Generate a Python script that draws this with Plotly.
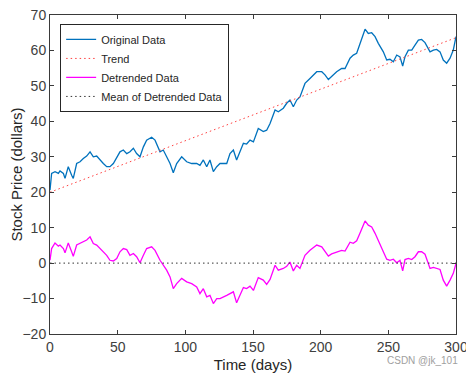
import plotly.graph_objects as go

# ---- data ----
time_days = [
    0, 1.2, 3.7, 6.2, 7.4, 9.9, 11.1, 13.5, 16.0, 17.2, 19.7, 22.2, 24.6, 27.1, 29.6,
    32.0, 34.5, 36.9, 39.4, 41.9, 44.3, 46.8, 49.3, 51.7, 54.2, 56.7, 59.1, 61.6, 64.0,
    66.5, 69.0, 71.4, 75.1, 77.6, 81.3, 83.7, 86.2, 88.7, 91.1, 93.6, 97.3, 101.0, 104.7,
    108.4, 110.8, 113.3, 115.8, 118.2, 120.7, 123.2, 125.6, 130.6,
    133.0, 135.5, 137.9, 142.9, 145.3, 147.8, 150.3, 153.9, 157.6, 160.1, 162.6, 166.3,
    168.7, 172.4, 174.9, 177.3, 179.8, 182.3, 184.7, 188.4, 192.1, 197.1, 200.8, 203.2,
    205.7, 208.1, 211.8, 215.5, 218.0, 221.7, 224.1, 226.6, 229.1, 232.8, 235.2, 237.7,
    240.2, 242.6, 246.3, 248.8, 251.2, 253.7, 256.2, 258.6, 260.6, 262.3, 264.8, 267.3,
    269.7, 272.2, 274.6, 277.1, 280.8, 283.3, 285.7, 288.2, 290.6, 293.1, 295.6, 298.0, 300,
]

original_data = [
    20.6, 25.3, 25.8, 25.3, 26.0, 25.3, 23.9, 27.2, 24.8, 23.9, 28.1, 28.6, 29.5, 30.2, 31.4,
    30.0, 30.2, 29.1, 28.1, 27.2, 27.2, 28.1, 30.0, 31.4, 31.9, 30.9, 31.4, 32.4, 30.9,
    30.0, 32.8, 34.7, 35.5, 34.7, 31.4, 31.9, 30.0, 28.1, 25.5, 28.1, 30.0, 28.6, 28.1,
    28.1, 27.6, 29.1, 27.2, 29.1, 25.8, 27.2, 28.1, 28.1,
    30.9, 31.9, 29.1, 33.8, 33.6, 34.7, 34.2, 38.0, 37.1, 37.5, 39.4, 43.2,
    42.7, 43.7, 45.1, 46.0, 44.1, 46.0, 46.9, 50.7, 52.1, 54.0, 54.0, 53.1,
    51.8, 52.6, 54.0, 54.9, 54.9, 57.8, 58.7, 59.2, 62.0, 66.0, 64.8, 65.0,
    63.9, 62.0, 59.6, 57.3, 57.5, 56.8, 58.7, 58.2, 55.6, 58.2, 60.1, 60.1,
    61.5, 62.9, 63.1, 62.2, 59.6, 60.1, 60.3, 59.6, 57.3, 56.4, 57.8, 60.1, 63.9,
]

detrended_data = [
    0.8, 4.1, 5.7, 4.8, 5.1, 4.1, 2.9, 5.7, 3.2, 1.9, 5.1, 5.5, 6.0, 6.5, 7.4,
    5.5, 5.1, 4.1, 3.2, 2.2, 0.8, 0.6, 1.3, 3.2, 4.1, 3.8, 2.2, 2.7, 1.8,
    0.1, 2.2, 4.1, 4.6, 3.6, 0.8, -0.6, -2.0, -3.9, -7.2, -5.8, -4.3, -5.3, -5.8,
    -6.7, -8.6, -7.2, -9.5, -9.1, -11.4, -10.0, -10.0, -9.1,
    -8.6, -8.1, -11.2, -6.9, -7.2, -6.5, -7.7, -4.1, -4.8, -6.0, -4.6, -0.6,
    -2.0, -1.5, -0.9, 0.3, -2.2, -0.6, -1.5, 2.2, 3.6, 5.1, 4.6, 3.3,
    2.0, 2.6, 3.2, 3.6, 3.4, 5.9, 5.6, 6.3, 8.5, 11.9, 10.7, 10.2,
    8.4, 6.5, 3.2, 1.1, 0.8, 1.1, 0.1, 0.8, -2.2, 1.0, 1.3, 1.0,
    1.8, 3.2, 3.2, 2.5, -1.5, -1.2, -1.5, -1.8, -4.8, -6.5, -4.8, -2.9, -0.1,
]

trend_days = [0, 300]
trend_values = [20.0, 63.6]
mean_days = [0, 300]
mean_values = [0.0, 0.0]

x_ticks = [0, 50, 100, 150, 200, 250, 300]
y_ticks = [-20, -10, 0, 10, 20, 30, 40, 50, 60, 70]

FONT = "Liberation Sans, Arial, sans-serif"
TICK_FONT = "Liberation Sans Narrow, Arial Narrow, Liberation Sans, sans-serif"
AXIS_COLOR = "#3a3a3a"

fig = go.Figure()
fig.add_trace(go.Scatter(x=time_days, y=original_data, mode="lines",
                         name="Original Data",
                         line=dict(color="#0072BD", width=1.3)))
fig.add_trace(go.Scatter(x=trend_days, y=trend_values, mode="lines",
                         name="Trend",
                         line=dict(color="#FF4040", width=1, dash="1.5px,3px")))
fig.add_trace(go.Scatter(x=time_days, y=detrended_data, mode="lines",
                         name="Detrended Data",
                         line=dict(color="#FF00FF", width=1.3)))
fig.add_trace(go.Scatter(x=mean_days, y=mean_values, mode="lines",
                         name="Mean of Detrended Data",
                         line=dict(color="#333333", width=1, dash="1.5px,3px")))

axis_common = dict(
    showgrid=False, zeroline=False, showline=True, linecolor=AXIS_COLOR, linewidth=1,
    mirror="allticks", ticks="inside", ticklen=4, tickcolor=AXIS_COLOR, automargin=False,
    ticklabeloverflow="allow",
    tickfont=dict(family=TICK_FONT, size=14, color="#404040"),
)

# the page body adds an 8px offset, so the figure is 8px smaller than the window
fig.update_layout(
    width=466, height=367,
    margin=dict(l=42, r=18, t=7, b=41),
    paper_bgcolor="white", plot_bgcolor="white",
    font=dict(family=FONT, color="#404040"),
    xaxis=dict(range=[0, 300], tickvals=x_ticks,
               title=dict(text="Time (days)", font=dict(family=FONT, size=15, color="#262626"),
                          standoff=5),
               **axis_common),
    yaxis=dict(range=[-20, 70], tickvals=y_ticks,
               title=dict(text="Stock Price (dollars)",
                          font=dict(family=FONT, size=15, color="#262626"), standoff=5),
               **axis_common),
    legend=dict(x=0.025, y=0.972, xanchor="left", yanchor="top",
                bgcolor="white", bordercolor="#262626", borderwidth=1,
                font=dict(family=FONT, size=11, color="#262626"),
                tracegroupgap=0),
    annotations=[dict(text="CSDN @jk_101", xref="paper", yref="paper",
                      x=1.01, y=-0.083, xanchor="right", yanchor="middle",
                      showarrow=False, font=dict(family=FONT, size=10, color="#a0a0a0"))],
)

fig.write_html("out.html")
